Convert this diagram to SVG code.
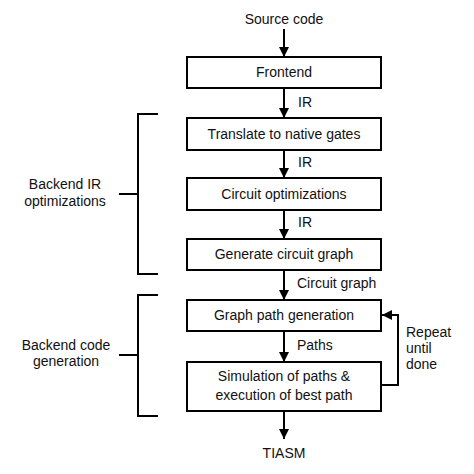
<svg xmlns="http://www.w3.org/2000/svg" width="474" height="474" viewBox="0 0 474 474">
<defs>
<marker id="ah" viewBox="0 0 10 10" refX="10" refY="5" markerWidth="10" markerHeight="10" markerUnits="userSpaceOnUse" orient="auto">
<path d="M0,0 L10,5 L0,10 Z" fill="#000"/>
</marker>
</defs>
<style>
text{font-family:"Liberation Sans",Arial,sans-serif;font-size:14px;fill:#111}
.c{text-anchor:middle}
.box{fill:#fff;stroke:#000;stroke-width:2}
.ln{fill:none;stroke:#000;stroke-width:2}
</style>
<rect width="474" height="474" fill="#fff"/>
<g id="connectors">
<line class="ln" x1="284" y1="29" x2="284" y2="57" marker-end="url(#ah)"/>
<line class="ln" x1="284" y1="88" x2="284" y2="118" marker-end="url(#ah)"/>
<line class="ln" x1="284" y1="150" x2="284" y2="178" marker-end="url(#ah)"/>
<line class="ln" x1="284" y1="210" x2="284" y2="239" marker-end="url(#ah)"/>
<line class="ln" x1="284" y1="270" x2="284" y2="300" marker-end="url(#ah)"/>
<line class="ln" x1="284" y1="331" x2="284" y2="362" marker-end="url(#ah)"/>
<line class="ln" x1="284" y1="411" x2="284" y2="439" marker-end="url(#ah)"/>
<polyline class="ln" points="381,385 398,385 398,315 382,315" marker-end="url(#ah)"/>
<text x="298" y="107">IR</text>
<text x="298" y="167">IR</text>
<text x="298" y="227">IR</text>
<text x="297" y="288">Circuit graph</text>
<text x="297" y="350">Paths</text>
<text x="406" y="337">Repeat</text>
<text x="406" y="353">until</text>
<text x="406" y="369">done</text>
</g>
<g id="source"><text class="c" x="284" y="24">Source code</text></g>
<g id="frontend"><rect class="box" x="187" y="57" width="194" height="31"/><text class="c" x="284" y="77">Frontend</text></g>
<g id="translate"><rect class="box" x="187" y="118" width="194" height="32"/><text class="c" x="284" y="139">Translate to native gates</text></g>
<g id="circopt"><rect class="box" x="187" y="178" width="194" height="32"/><text class="c" x="284" y="199">Circuit optimizations</text></g>
<g id="gengraph"><rect class="box" x="187" y="239" width="194" height="31"/><text class="c" x="284" y="259">Generate circuit graph</text></g>
<g id="graphpath"><rect class="box" x="187" y="300" width="194" height="31"/><text class="c" x="284" y="320">Graph path generation</text></g>
<g id="simulation"><rect class="box" x="187" y="362" width="194" height="49"/><text class="c" x="284" y="381">Simulation of paths &amp;</text><text class="c" x="284" y="400">execution of best path</text></g>
<g id="tiasm"><text class="c" x="284" y="458">TIASM</text></g>
<g id="backend-ir">
<polyline class="ln" points="158,114 138,114 138,274 158,274"/>
<line class="ln" x1="119" y1="194" x2="138" y2="194"/>
<text class="c" x="65" y="189">Backend IR</text>
<text class="c" x="65" y="206">optimizations</text>
</g>
<g id="backend-code">
<polyline class="ln" points="158,295 138,295 138,416 158,416"/>
<line class="ln" x1="119" y1="355" x2="138" y2="355"/>
<text class="c" x="66" y="350">Backend code</text>
<text class="c" x="66" y="366">generation</text>
</g>
</svg>
